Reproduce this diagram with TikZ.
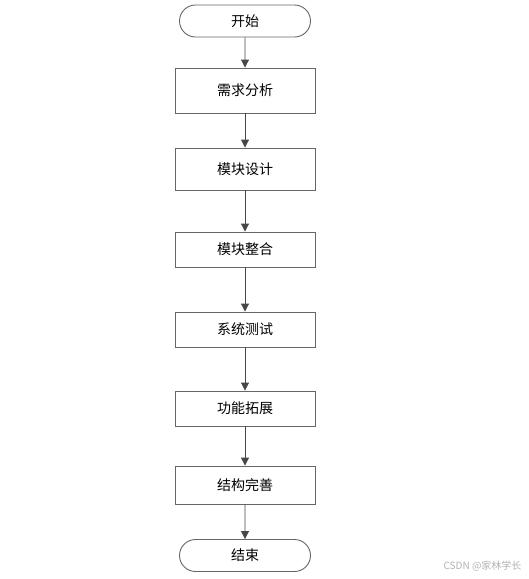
\documentclass[tikz,border=0pt]{standalone}
\usepackage{fontspec}
\newfontfamily\cjk{Noto Sans CJK SC}
\usetikzlibrary{arrows.meta,shapes.misc}
\begin{document}
\begin{tikzpicture}[x=1pt,y=-1pt,
  every node/.style={font=\cjk\fontsize{14}{16}\selectfont, text=black},
  procbox/.style={draw=black!60, line width=0.9pt, rectangle, minimum width=140pt, inner sep=0pt},
  termbox/.style={draw=black!60, line width=0.9pt, rounded rectangle, minimum width=131pt, minimum height=32pt, inner sep=0pt},
  flow/.style={draw=black!72, line width=0.9pt, -{Triangle[length=8pt,width=8pt]}}]
\useasboundingbox (0,0) rectangle (529,579);
\node[termbox] (start) at (245,21) {开始};
\node[procbox, minimum height=45pt] (a) at (245,90.5) {需求分析};
\node[procbox, minimum height=42pt] (b) at (245,169) {模块设计};
\node[procbox, minimum height=35pt] (c) at (245,249.5) {模块整合};
\node[procbox, minimum height=35pt] (d) at (245,329.5) {系统测试};
\node[procbox, minimum height=35pt] (e) at (245,408.5) {功能拓展};
\node[procbox, minimum height=38pt] (f) at (245,485) {结构完善};
\node[termbox] (end) at (245,555.5) {结束};
\draw[flow] (start) -- (a);
\draw[flow] (a) -- (b);
\draw[flow] (b) -- (c);
\draw[flow] (c) -- (d);
\draw[flow] (d) -- (e);
\draw[flow] (e) -- (f);
\draw[flow] (f) -- (end);
\node[anchor=east, font=\cjk\fontsize{10}{12}\selectfont, text=black!30] (wm) at (525,566) {CSDN @家林学长};
\end{tikzpicture}
\end{document}
